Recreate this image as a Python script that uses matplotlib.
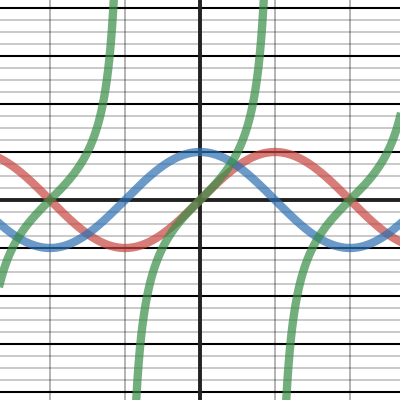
import numpy as np
import matplotlib.pyplot as plt

x_lim = 200 / 47.75
y_lim = 200 / 48.0
curve_names = ["sin", "cos", "tan"]
curve_colors = ["#c74440", "#2d70b3", "#388c46"]

fig = plt.figure(figsize=(4, 4), dpi=100)
ax = fig.add_axes([0, 0, 1, 1])
ax.set_xlim(-x_lim, x_lim)
ax.set_ylim(-y_lim, y_lim)
ax.axis("off")

# grid
for k in range(-2, 3):
    ax.axvline(k * np.pi / 2, color="black", alpha=0.35, lw=1.2, zorder=0)
for v in np.arange(-4, 4.01, 0.25):
    if abs(v - round(v)) < 1e-9:
        ax.axhline(v, color="black", lw=1.5, zorder=1)
    else:
        ax.axhline(v, color="black", alpha=0.25, lw=1.2, zorder=0)
ax.axhline(0, color="#222222", lw=2.8, zorder=2)
ax.axvline(0, color="#222222", lw=2.8, zorder=2)

x = np.linspace(-x_lim, x_lim, 4000)
ax.plot(x, np.sin(x), color=curve_colors[0], lw=6, alpha=0.7, zorder=3)
ax.plot(x, np.cos(x), color=curve_colors[1], lw=6, alpha=0.7, zorder=3)
t = np.tan(x)
t[np.abs(t) > 50] = np.nan
ax.plot(x, t, color=curve_colors[2], lw=6, alpha=0.7, zorder=3)

fig.savefig("out.png", dpi=100)
